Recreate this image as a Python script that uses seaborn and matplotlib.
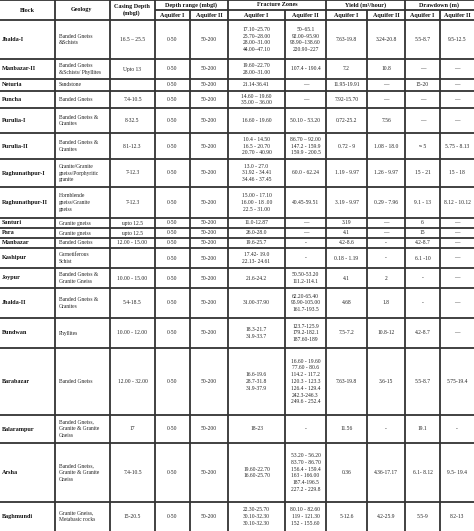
import matplotlib
matplotlib.use("Agg")
import matplotlib.pyplot as plt
import seaborn as sns

sns.set_theme(style="white")
plt.rcParams['font.family'] = ['Liberation Serif', 'DejaVu Serif']

blocks = ["Jhalda-I", "Manbazar-II", "Neturia", "Puncha", "Purulia-I", "Purulia-II",
          "Raghunathpur-I", "Raghunathpur-II", "Santuri", "Para", "Manbazar", "Kashipur",
          "Joypur", "Jhalda-II", "Bundwan", "Barabazar", "Balarampur", "Arsha", "Baghmundi"]
geology = ["Banded Gneiss\n&Schists", "Banded Gneiss\n&Schists/ Phyllites", "Sandstone",
           "Banded Gneiss", "Banded Gneiss &\nGranites", "Banded Gneiss &\nGranites",
           "Granite/Granite\ngneiss/Porphyritic\ngranite", "Hornblende\ngneiss/Granite\ngneiss",
           "Granite gneiss", "Granite gneiss", "Banded Gneiss", "Garnetiferous\nSchist",
           "Banded Gneiss &\nGranite Gneiss", "Banded Gneiss &\nGranites", "Phyllites",
           "Banded Gneiss", "Banded Gneiss,\nGranite & Granite\nGneiss",
           "Banded Gneiss,\nGranite & Granite\nGneiss", "Granite Gneiss,\nMetabasic rocks"]
casing = ["16.5 – 25.5", "Upto 13", "", "7.4-10.5", "8-32.5", "8.1-12.3", "7-12.3", "7-12.3",
          "upto 12.5", "upto 12.5", "12.00 - 15.00", "", "10.00 - 15.00", "5.4-18.5",
          "10.00 - 12.00", "12.00 - 32.00", "17", "7.4-10.5", "15-20.5"]
depth_aq1 = ["0-50"] * 19
depth_aq2 = ["50-200"] * 19
frac_aq1 = ["17.10–25.70\n25.70–28.00\n28.00–31.00\n44.00–47.10", "19.60–22.70\n28.00–31.00",
            "21.14-36.41", "14.60 – 19.60\n35.00 – 36.00", "16.60 - 19.60",
            "10.4 - 14.50\n16.5 - 20.70\n20.70 - 40.90", "13.0 - 27.0\n31.92 - 34.41\n34.46 - 37.45",
            "15.00 - 17.10\n16.00 - 18 .00\n22.5 - 31.00", "11.0-12.87", "26.0-28.0", "19.6-25.7",
            "17.42- 19.0\n22.13- 24.61", "21.6-24.2", "31.00-37.90", "18.3-21.7\n31.9-33.7",
            "16.6-19.6\n28.7-31.8\n31.9-37.9", "18-23", "19.60-22.70\n16.60-25.70",
            "22.30-25.70\n30.10-32.30\n30.10-32.30"]
frac_aq2 = ["50–65.1\n92.00–95.90\n98.90–138.60\n220.90–227", "107.4 - 190.4", "—", "—",
            "50.10 - 53.20", "86.70 – 92.00\n147.2 - 159.9\n159.9 - 200.5", "60.0 - 62.24",
            "40.45-59.51", "—", "—", "-", "-", "50.50-53.20\n111.2-114.1",
            "62.20-65.40\n95.90-105.00\n161.7-193.5", "123.7-125.9\n179.2-182.1\n187.60-189",
            "16.60 - 19.60\n77.60 - 80.6\n114.2 - 117.2\n120.3 - 123.3\n126.4 - 129.4\n242.3-246.3\n249.6 - 252.4",
            "-", "53.20 - 56.20\n83.70 - 86.70\n156.4 - 159.4\n163 - 166.00\n187.4-196.5\n227.2 - 229.8",
            "80.10 - 82.60\n119 - 121.30\n152 - 155.60"]
yield_aq1 = ["7.63-19.8", "7.2", "11.95-19.91", "7.92-15.70", "0.72-25.2", "0.72 - 9",
             "1.19 - 9.97", "3.19 - 9.97", "3.19", "4.1", "4.2-8.6", "0.18 - 1.19", "4.1", "4.68",
             "7.5-7.2", "7.63-19.8", "11.56", "0.36", "5-12.6"]
yield_aq2 = ["3.24-20.8", "10.8", "—", "—", "7.56", "1.08 - 18.0", "1.26 - 9.97", "0.29 - 7.96",
             "—", "—", "-", "-", "2", "1.8", "10.8-12", "3.6-15", "-", "4.36-17.17", "4.2-25.9"]
draw_aq1 = ["5.5-8.7", "—", "15-20", "—", "—", "≈ 5", "15 - 21", "9.1 - 13", "6", "15",
            "4.2-8.7", "6.1 -10", "-", "-", "4.2-8.7", "5.5-8.7", "19.1", "6.1- 8.12", "5.5-9"]
draw_aq2 = ["9.5-12.5", "—", "—", "—", "—", "5.75 - 8.13", "15 - 18", "8.12 - 10.12", "—", "—",
            "—", "—", "—", "—", "—", "5.75-19.4", "-", "9.5- 19.4", "8.2-13"]

col_edges = [0, 55, 110, 155, 190, 228, 285, 326, 367, 405, 440, 474]
row_edges = [20, 59, 79, 91, 108, 133, 159, 187, 218, 228, 238, 248, 268, 288, 318, 348,
             415, 443, 502, 531]

fig = plt.figure(figsize=(4.74, 5.31), dpi=100)
ax = fig.add_axes([0, 0, 1, 1])
ax.set_xlim(0, 474)
ax.set_ylim(531, 0)
ax.axis("off")

fs = 4.0
lw = 1.3
columns = [geology, casing, depth_aq1, depth_aq2, frac_aq1, frac_aq2,
           yield_aq1, yield_aq2, draw_aq1, draw_aq2]

for y in [0] + row_edges[:-1]:
    ax.hlines(y, 0, 474, color="#333333", lw=lw)
ax.hlines(10, col_edges[3], 474, color="#333333", lw=lw)
for i, x in enumerate(col_edges[1:-1], start=1):
    top = 10 if i in (4, 6, 8, 10) else 0
    ax.vlines(x, top, 531, color="#333333", lw=lw)

hdr = dict(ha="center", va="center", fontsize=fs + 0.4, fontweight="bold", color="#111111")
ax.text(27, 10, "Block", **hdr)
ax.text(82, 10, "Geology", **hdr)
ax.text(132, 10, "Casing Depth\n(mbgl)", linespacing=1.5, **hdr)
groups = ["Depth range (mbgl)", "Fracture Zones", "Yield (m³/hour)", "Drawdown (m)"]
for g, (a, b) in zip(groups, [(155, 228), (228, 326), (326, 405), (405, 474)]):
    ax.text((a + b) / 2, 5, g, **hdr)
for a, b in zip(col_edges[3:-1], col_edges[4:]):
    lab = "Aquifer I" if col_edges.index(a) % 2 == 1 else "Aquifer II"
    ax.text((a + b) / 2, 15, lab, **hdr)

for r, blk in enumerate(blocks):
    y0, y1 = row_edges[r], row_edges[r + 1]
    ym = (y0 + y1) / 2
    ax.text(2, ym, blk, ha="left", va="center", fontsize=fs + 0.4, fontweight="bold", color="#111111")
    for c, col in enumerate(columns):
        a, b = col_edges[c + 1], col_edges[c + 2]
        if c == 0:
            ax.text(a + 4, ym, col[r], ha="left", va="center", fontsize=fs,
                    linespacing=1.45, color="#222222")
        else:
            ax.text((a + b) / 2, ym, col[r], ha="center", va="center", fontsize=fs,
                    linespacing=1.45, color="#222222")

fig.savefig("out.png", dpi=100, facecolor="white")
